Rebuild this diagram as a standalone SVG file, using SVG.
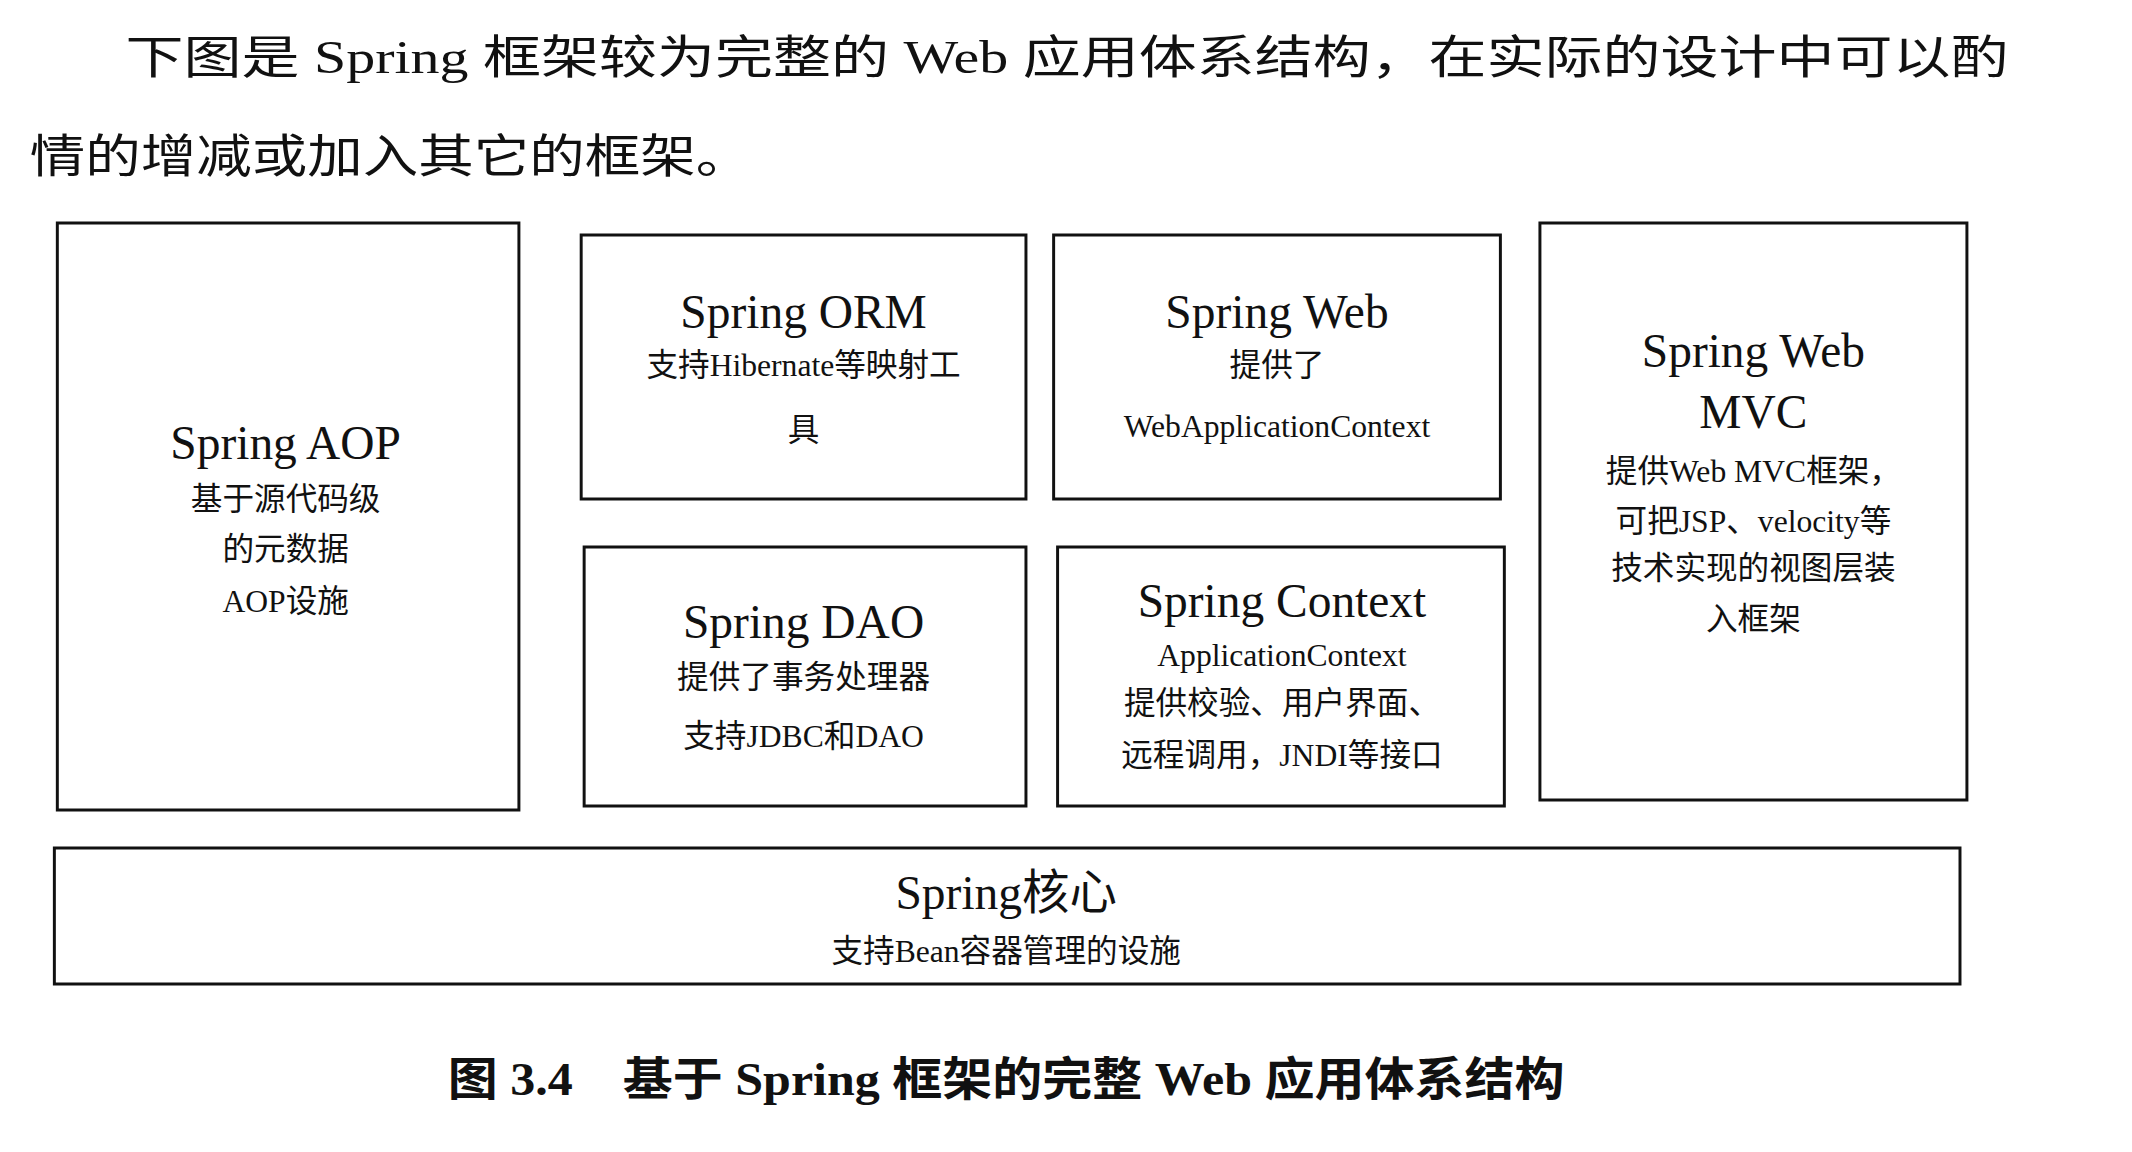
<svg xmlns="http://www.w3.org/2000/svg" width="2132" height="1152" viewBox="0 0 2132 1152">
<style>
text{font-family:"Liberation Serif","Noto Sans CJK SC",serif;fill:#111;text-anchor:middle;dominant-baseline:central}
.t{font-size:48px}
.s{font-size:32px}
.h{font-size:46px;text-anchor:start}
.c{font-size:46px;font-weight:bold}
rect{fill:#fff;stroke:#111;stroke-width:3}
</style>
<rect x="0" y="0" width="2132" height="1152" style="stroke:none"/>
<g transform="scale(0.9884,1)">
<text class="h" x="127" y="57" textLength="1905" lengthAdjust="spacingAndGlyphs">下图是 Spring 框架较为完整的 Web 应用体系结构，在实际的设计中可以酌</text>
<text class="h" x="30" y="156" textLength="730" lengthAdjust="spacingAndGlyphs">情的增减或加入其它的框架。</text>
<g id="aop"><rect x="58" y="223" width="467" height="587"/>
<text class="t" x="289" y="442">Spring AOP</text>
<text class="s" x="289" y="499">基于源代码级</text>
<text class="s" x="289" y="549">的元数据</text>
<text class="s" x="289" y="601">AOP设施</text></g>
<g id="orm"><rect x="588" y="235" width="450" height="264"/>
<text class="t" x="813" y="311">Spring ORM</text>
<text class="s" x="813" y="365">支持Hibernate等映射工</text>
<text class="s" x="813" y="430">具</text></g>
<g id="web"><rect x="1066" y="235" width="452" height="264"/>
<text class="t" x="1292" y="311">Spring Web</text>
<text class="s" x="1292" y="365">提供了</text>
<text class="s" x="1292" y="426">WebApplicationContext</text></g>
<g id="mvc"><rect x="1558" y="223" width="432" height="577"/>
<text class="t" x="1774" y="350">Spring Web</text>
<text class="t" x="1774" y="411">MVC</text>
<text class="s" x="1774" y="471">提供Web MVC框架，</text>
<text class="s" x="1774" y="521">可把JSP、velocity等</text>
<text class="s" x="1774" y="568">技术实现的视图层装</text>
<text class="s" x="1774" y="619">入框架</text></g>
<g id="dao"><rect x="591" y="547" width="447" height="259"/>
<text class="t" x="813" y="621">Spring DAO</text>
<text class="s" x="813" y="677">提供了事务处理器</text>
<text class="s" x="813" y="736">支持JDBC和DAO</text></g>
<g id="context"><rect x="1070" y="547" width="452" height="259"/>
<text class="t" x="1297" y="600">Spring Context</text>
<text class="s" x="1297" y="655">ApplicationContext</text>
<text class="s" x="1297" y="703">提供校验、用户界面、</text>
<text class="s" x="1297" y="755">远程调用，JNDI等接口</text></g>
<g id="core"><rect x="55" y="848" width="1928" height="136"/>
<text class="t" x="1018" y="892">Spring核心</text>
<text class="s" x="1018" y="951">支持Bean容器管理的设施</text></g>
<g id="connectors"/>
<text class="c" x="1018" y="1079" textLength="1130" lengthAdjust="spacingAndGlyphs">图 3.4　基于 Spring 框架的完整 Web 应用体系结构</text>
</g>
</svg>
